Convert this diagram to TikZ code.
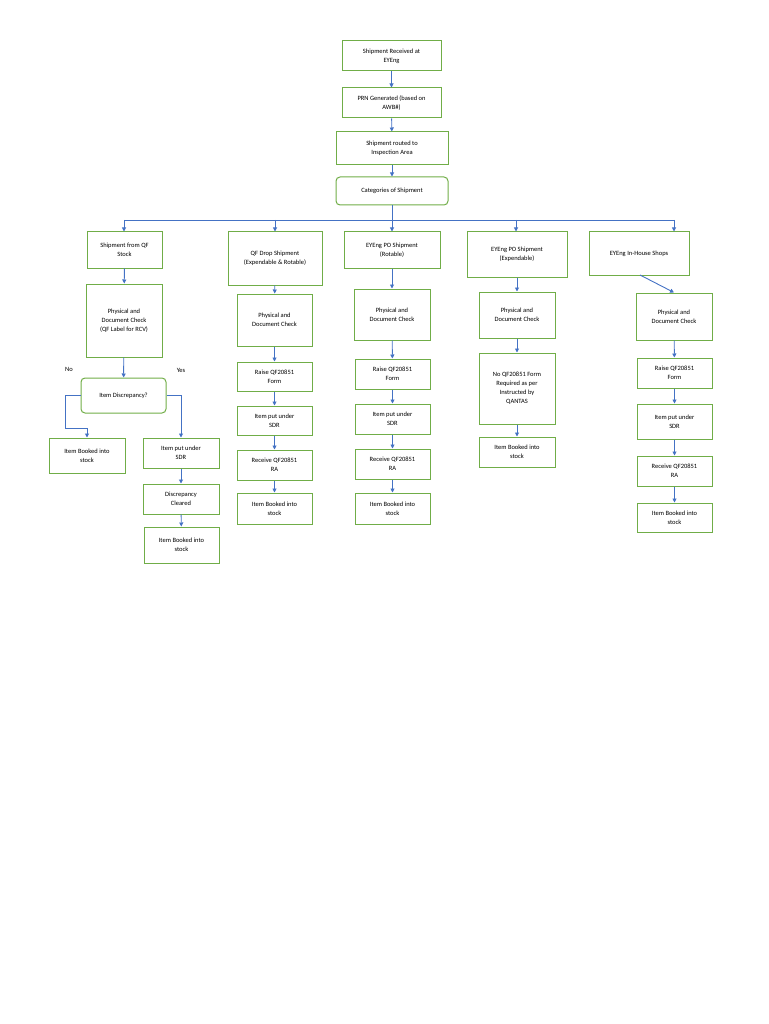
\documentclass[tikz,border=0pt]{standalone}
\usepackage{fontspec}
\setmainfont{Carlito}
\usetikzlibrary{arrows.meta}
\definecolor{bgreen}{RGB}{112,173,71}
\definecolor{ablue}{RGB}{68,114,196}
\tikzset{
 bx/.style={draw=bgreen,line width=1pt,align=center,font=\fontsize{6.5}{9}\selectfont,inner sep=1pt},
 rbx/.style={bx,rounded corners=4pt},
 ar/.style={draw=ablue,line width=0.9pt,-{Triangle[length=4pt,width=4pt]}},
 ln/.style={draw=ablue,line width=0.9pt},
 lbl/.style={font=\fontsize{6.5}{8}\selectfont}
}
\newcommand{\bxn}[7][bx]{\node[#1,minimum width={(#5-#3)*1pt},minimum height={(#6-#4)*1pt}] (#2) at ({(#3+#5)/2},{(#4+#6)/2}) {#7};}
\begin{document}
\begin{tikzpicture}[x=1pt,y=-1pt]
\useasboundingbox (0,0) rectangle (768,1024);
\bxn{a}{342}{41}{441}{71}{Shipment Received at\\EYEng}
\bxn{b}{342}{88}{441}{118}{PRN Generated (based on\\AWB\#)}
\bxn{c}{336}{132}{448}{165}{Shipment routed to\\Inspection Area}
\bxn[rbx]{d}{336}{177}{448}{205}{Categories of Shipment}
% col1
\bxn{s1}{87}{232}{162}{268}{Shipment from QF\\Stock}
\bxn{p1}{86}{284}{162}{357}{Physical and\\Document Check\\(QF Label for RCV)}
\bxn[rbx]{q1}{81}{378}{166}{413}{Item Discrepancy?}
\bxn{n1}{49}{438}{125}{473}{Item Booked into\\stock}
\bxn{y1}{143}{438}{219}{468}{Item put under\\SDR}
\bxn{y2}{143}{484}{219}{514}{Discrepancy\\Cleared}
\bxn{y3}{144}{527}{219}{563}{Item Booked into\\stock}
% col2
\bxn{s2}{228}{232}{322}{285}{QF Drop Shipment\\(Expendable \& Rotable)}
\bxn{p2}{237}{294}{312}{346}{Physical and\\Document Check}
\bxn{r2}{237}{362}{312}{391}{Raise QF20851\\Form}
\bxn{d2}{237}{406}{312}{435}{Item put under\\SDR}
\bxn{v2}{237}{450}{312}{480}{Receive QF20851\\RA}
\bxn{k2}{237}{493}{312}{524}{Item Booked into\\stock}
% col3
\bxn{s3}{344}{232}{440}{268}{EYEng PO Shipment\\(Rotable)}
\bxn{p3}{354}{289}{430}{340}{Physical and\\Document Check}
\bxn{r3}{355}{359}{430}{389}{Raise QF20851\\Form}
\bxn{d3}{355}{404}{430}{434}{Item put under\\SDR}
\bxn{v3}{355}{449}{430}{479}{Receive QF20851\\RA}
\bxn{k3}{355}{493}{430}{524}{Item Booked into\\stock}
% col4
\bxn{s4}{467}{232}{567}{277}{EYEng PO Shipment\\(Expendable)}
\bxn{p4}{479}{292}{555}{338}{Physical and\\Document Check}
\bxn{r4}{479}{353}{555}{424}{No QF20851 Form\\Required as per\\Instructed by\\QANTAS}
\bxn{k4}{479}{437}{555}{467}{Item Booked into\\stock}
% col5
\bxn{s5}{589}{232}{689}{275}{EYEng In-House Shops}
\bxn{p5}{636}{293}{712}{340}{Physical and\\Document Check}
\bxn{r5}{637}{358}{712}{388}{Raise QF20851\\Form}
\bxn{d5}{637}{404}{712}{439}{Item put under\\SDR}
\bxn{v5}{637}{456}{712}{486}{Receive QF20851\\RA}
\bxn{k5}{637}{503}{712}{532}{Item Booked into\\stock}
% top arrows
\draw[ar] (a) -- (b); \draw[ar] (b) -- (c); \draw[ar] (c) -- (d);
\coordinate (bl) at (124,220); \coordinate (br) at (674,220); \coordinate (bm) at (392,220);
\draw[ln] (d.south) -- (bm); \draw[ln] (bl) -- (br);
\draw[ar] (bl) -- (s1.north-|bl);
\draw[ar] (275,220) -- (s2.north-|275,0);
\draw[ar] (bm) -- (s3.north-|bm);
\draw[ar] (516,220) -- (s4.north-|516,0);
\draw[ar] (br) -- (s5.north-|br);
% col1
\draw[ar] (s1) -- (p1); \draw[ar] (p1) -- (q1);
\draw[ar] (q1.west) -| (65,428) -| (n1.north-|87,0);
\draw[ar] (q1.east) -| (y1.north-|181,0);
\draw[ar] (y1) -- (y2); \draw[ar] (y2) -- (y3);
\node[lbl] (no) at (69,369) {No};
\node[lbl] (yes) at (181,370) {Yes};
% col2
\draw[ar] (s2) -- (p2); \draw[ar] (p2) -- (r2); \draw[ar] (r2) -- (d2); \draw[ar] (d2) -- (v2); \draw[ar] (v2) -- (k2);
\draw[ar] (s3) -- (p3); \draw[ar] (p3) -- (r3); \draw[ar] (r3) -- (d3); \draw[ar] (d3) -- (v3); \draw[ar] (v3) -- (k3);
\draw[ar] (s4) -- (p4); \draw[ar] (p4) -- (r4); \draw[ar] (r4) -- (k4);
\draw[ar] (640,275) -- (p5.north); \draw[ar] (p5) -- (r5); \draw[ar] (r5) -- (d5); \draw[ar] (d5) -- (v5); \draw[ar] (v5) -- (k5);
\end{tikzpicture}
\end{document}
